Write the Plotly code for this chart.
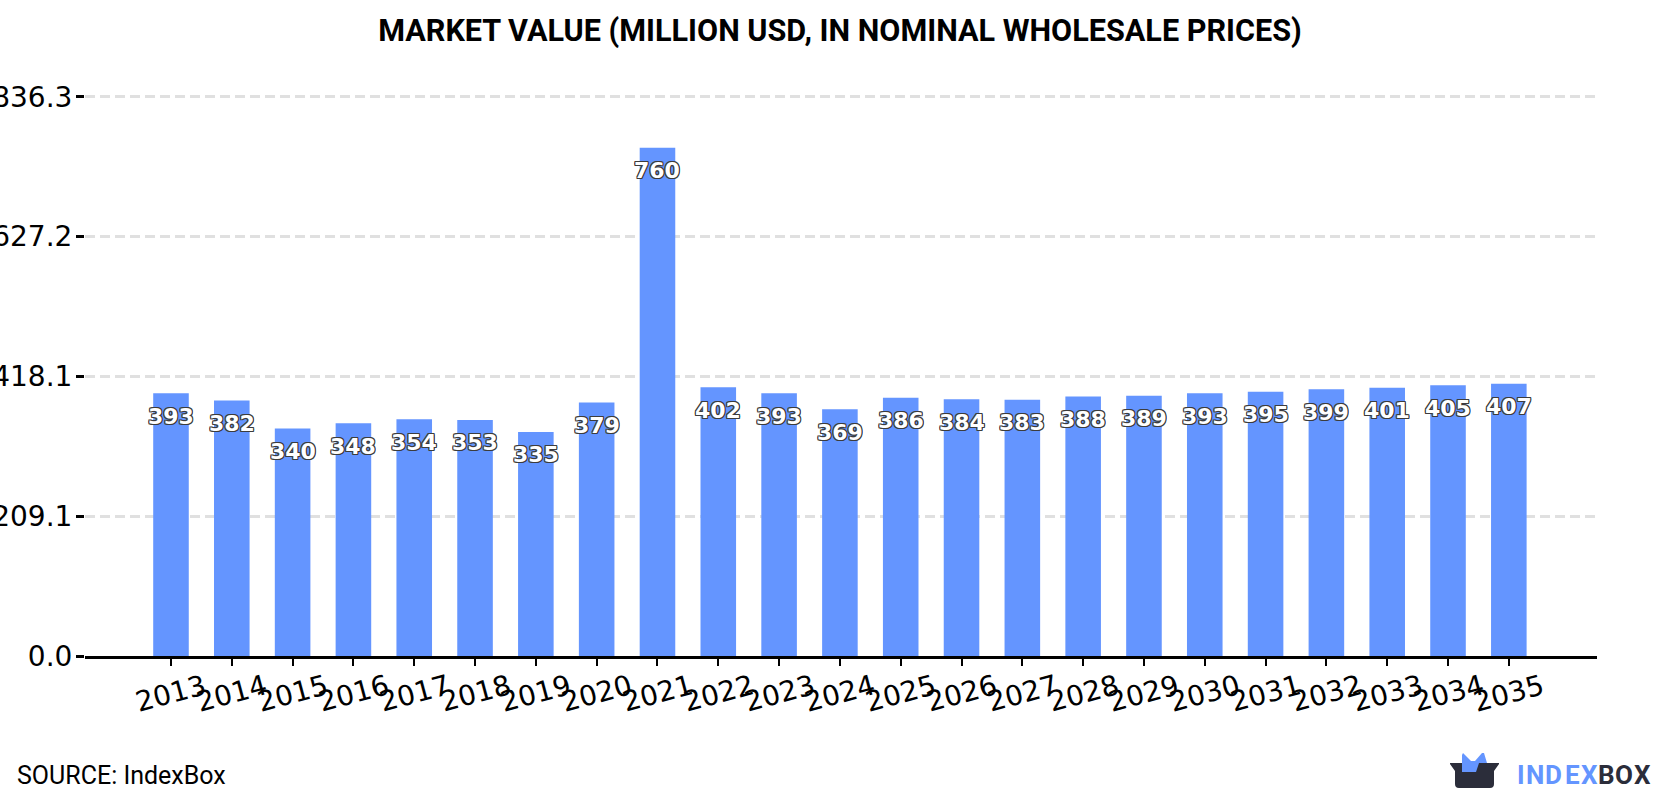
import base64
import plotly.graph_objects as go

years = list(range(2013, 2036))
values = [393, 382, 340, 348, 354, 353, 335, 379, 760, 402, 393, 369,
          386, 384, 383, 388, 389, 393, 395, 399, 401, 405, 407]
y_ticks = [0.0, 209.1, 418.1, 627.2, 836.3]
y_tick_labels = ["0.0", "209.1", "418.1", "627.2", "836.3"]

BLUE = "#6495ff"
DARK = "#2b2d3a"
W, H = 1680, 800
M_L, M_R, M_T, M_B = 85, 83, 90, 144
PLOT_W, PLOT_H = W - M_L - M_R, H - M_T - M_B
TOP_TICK_PX = 96.7   # height of the 836.3 gridline on the page
AXIS_PX = H - M_B


def px_x(px):
    """Page x in pixels to paper fraction."""
    return (px - M_L) / PLOT_W


def px_y(px):
    """Page y in pixels to paper fraction."""
    return (H - M_B - px) / PLOT_H


# Leave a little headroom so the top gridline is still drawn
y_top = y_ticks[-1] * PLOT_H / (AXIS_PX - TOP_TICK_PX)

LABEL_OUTLINE = ", ".join(
    f"{dx}px {dy}px 0 #3c3c3c" for dx in (-1, 0, 1) for dy in (-1, 0, 1) if dx or dy
)

LOGO_SVG = f"""<svg xmlns="http://www.w3.org/2000/svg" viewBox="0 0 50 36" width="200" height="144">
<path fill="{DARK}" d="M0 10H49V11L44 18V31Q44 35 40 35H9Q5 35 5 31V18L0 11Z"/>
<path fill="{BLUE}" d="M12 19V2L13 0L21 8H25L32 0H34L37 10H29L26 19Z"/>
</svg>"""
logo_uri = "data:image/svg+xml;base64," + base64.b64encode(LOGO_SVG.encode()).decode()

fig = go.Figure(go.Bar(x=years, y=values, width=0.585, marker_color=BLUE,
                       marker_line_width=0, hoverinfo="x+y"))

annotations = []

# Value labels sit just under the top of each bar
for yr, v in zip(years, values):
    annotations.append(dict(
        x=yr, y=v, xref="x", yref="y", text=str(v), showarrow=False,
        yanchor="middle", xanchor="center", yshift=-23,
        font=dict(family="DejaVu Sans", size=22, color="white", weight="bold",
                  shadow=LABEL_OUTLINE),
    ))

# Year labels, tilted and centred under their ticks
for yr in years:
    annotations.append(dict(
        x=yr, y=0, xref="x", yref="y", text=str(yr), showarrow=False,
        yanchor="middle", xanchor="center", yshift=-37, textangle=-15,
        font=dict(family="DejaVu Sans", size=28, color="black"),
    ))

annotations.append(dict(
    x=px_x(15), y=px_y(775), xref="paper", yref="paper", text="SOURCE: IndexBox",
    showarrow=False, xanchor="left", yanchor="middle",
    font=dict(family="Roboto", size=25, color="black"),
))

# Wordmark, spaced letter by letter
wordmark = [("I", 1517, BLUE), ("N", 1526, BLUE), ("D", 1545, BLUE), ("E", 1565, BLUE), ("X", 1581, BLUE),
            ("B", 1598, DARK), ("O", 1615, DARK), ("X", 1634, DARK)]
for ch, px, col in wordmark:
    annotations.append(dict(
        x=px_x(px), y=px_y(775), xref="paper", yref="paper", text=ch, showarrow=False,
        xanchor="left", yanchor="middle", xshift=-2,
        font=dict(family="Roboto", size=26, color=col, weight="bold"),
    ))

fig.update_layout(
    width=W, height=H, autosize=False,
    margin=dict(l=M_L, r=M_R, t=M_T, b=M_B, pad=0),
    paper_bgcolor="white", plot_bgcolor="white",
    showlegend=False, bargap=0.4,
    title=dict(
        text="MARKET VALUE (MILLION USD, IN NOMINAL WHOLESALE PRICES)",
        x=840 / W, xanchor="center", xref="container",
        y=1 - 30 / H, yanchor="middle",
        font=dict(family="Roboto", size=30.6, color="black", weight="bold"),
    ),
    xaxis=dict(
        range=[2013 - 1.414, 2013 + 23.45], tickmode="array", tickvals=years,
        showticklabels=False, ticks="outside", ticklen=7, tickwidth=2, tickcolor="black",
        showline=True, linecolor="black", linewidth=3, showgrid=False, zeroline=False,
    ),
    yaxis=dict(
        range=[0, y_top], tickmode="array", tickvals=y_ticks, ticktext=y_tick_labels,
        ticks="outside", ticklen=8, tickwidth=3, tickcolor="black", ticklabelstandoff=-2,
        tickfont=dict(family="DejaVu Sans", size=28, color="black"),
        showgrid=True, gridcolor="#e0e0e0", gridwidth=2.5, griddash="10px,5px",
        zeroline=False, showline=False, automargin=False,
    ),
    annotations=annotations,
    images=[dict(source=logo_uri, xref="paper", yref="paper", x=px_x(1450), y=px_y(753),
                 sizex=50 / PLOT_W, sizey=36 / PLOT_H, xanchor="left", yanchor="top", layer="above")],
)

fig.write_html("out.html")
